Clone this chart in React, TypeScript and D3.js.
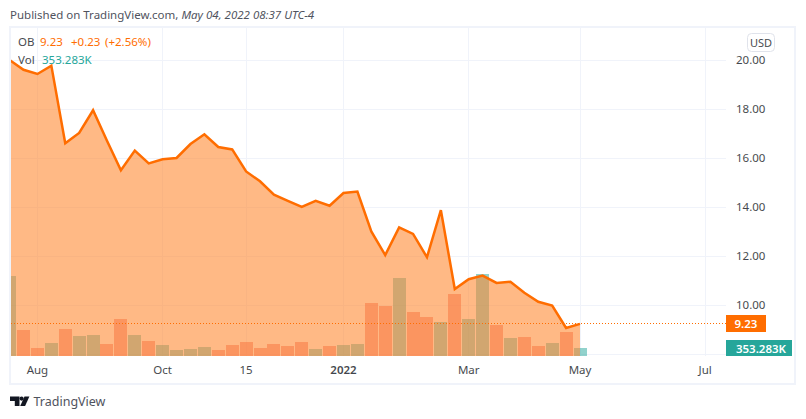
import * as React from "react";
import * as d3 from "d3";

const closes = [
  20.0, 19.6, 19.43, 19.77, 16.6, 17.02, 17.95, 16.7, 15.5, 16.3, 15.78, 15.95, 16.0, 16.57,
  16.97, 16.45, 16.35, 15.45, 15.05, 14.5, 14.25, 14.0, 14.25, 14.05, 14.57, 14.63, 13.0, 12.04,
  13.17, 12.9, 11.95, 13.87, 10.65, 11.05, 11.2, 10.9, 10.95, 10.5, 10.13, 9.98, 9.06, 9.23,
];
// thousands of shares
const volumes = [
  3530, 1150, 353, 575, 1190, 885, 930, 530, 1635, 930, 660, 485, 265, 310, 400, 265, 485, 620,
  353, 530, 440, 620, 310, 440, 485, 530, 2340, 2210, 3445, 1945, 1720, 1500, 2740, 1635, 3620,
  1370, 795, 840, 440, 575, 1060, 353.283,
];
// true where the volume bar is the "up" colour
const volUp = [
  1, 0, 0, 1, 0, 1, 1, 0, 0, 1, 0, 1, 1, 1, 1, 0, 0, 0, 0, 0, 0, 0, 1, 0, 1, 1, 0, 0, 1, 0, 0, 1,
  0, 1, 1, 0, 1, 0, 0, 1, 0, 1,
];
const priceTicks = [20, 18, 16, 14, 12, 10];
const gridPrices = [20, 18, 16, 14, 12, 10, 8];
const timeTickIndex = [2, 11, 17, 24, 33, 41, 50];
const timeTickLabels = ["Aug", "Oct", "15", "2022", "Mar", "May", "Jul"];

const font = "'Noto Sans', sans-serif";
const orange = "#ff6d00";
const teal = "#26a69a";
const gridColor = "#f0f3fa";

const x = d3.scaleLinear().domain([0, 41]).range([9.6, 580]);
const y = d3.scaleLinear().domain([8, 20]).range([354, 60]);
const volY = d3.scaleLinear().domain([0, 4416]).range([356, 256]);

const plotLeft = 11;
const plotRight = 726;
const plotBottom = 356;

export default function App() {
  const line = d3
    .line<number>()
    .x((_, i) => x(i))
    .y((d) => y(d));
  const area = d3
    .area<number>()
    .x((_, i) => x(i))
    .y0(plotBottom)
    .y1((d) => y(d));
  const last = closes[closes.length - 1];
  const lastY = Math.floor(y(last)) + 0.5;
  return (
    <svg
      width={806}
      height={419}
      style={{ position: "absolute", left: 0, top: 0, fontFamily: font }}
    >
      <defs>
        <clipPath id="plot">
          <rect x={plotLeft} y={27} width={plotRight - plotLeft} height={plotBottom - 27} />
        </clipPath>
      </defs>
      <text x={10} y={19} fontSize={11.5} fill="#50535e">
        Published on TradingView.com, <tspan fontStyle="italic">May 04, 2022 08:37 UTC-4</tspan>
      </text>
      <rect x={10} y={27} width={785} height={357} fill="#fff" stroke={gridColor} strokeWidth={2} />

      <g stroke={gridColor} strokeWidth={1}>
        {gridPrices.map((p) => (
          <line key={p} x1={plotLeft} x2={plotRight} y1={y(p) + 0.5} y2={y(p) + 0.5} />
        ))}
        {timeTickIndex.map((t) => (
          <line
            key={t}
            x1={Math.floor(x(t)) + 0.5}
            x2={Math.floor(x(t)) + 0.5}
            y1={28}
            y2={plotBottom}
          />
        ))}
      </g>

      <g clipPath="url(#plot)">
        {volumes.map((v, i) => (
          <rect
            key={i}
            x={x(i) - 6.5}
            y={volY(v)}
            width={13}
            height={plotBottom - volY(v)}
            fill={volUp[i] ? teal : "#ef5350"}
            fillOpacity={0.5}
            shapeRendering="crispEdges"
          />
        ))}
        {/* white wash under the area softens the bars but not the tips above it */}
        <path d={area(closes) ?? ""} fill="#fff" fillOpacity={0.2} />
        <path d={area(closes) ?? ""} fill={orange} fillOpacity={0.48} />
        <path d={line(closes) ?? ""} fill="none" stroke={orange} strokeWidth={2.5} />
        <line
          x1={plotLeft}
          x2={plotRight}
          y1={lastY}
          y2={lastY}
          stroke={orange}
          strokeWidth={1}
          strokeDasharray="1 2"
        />
      </g>

      <g fontSize={11.5} fill="#131722" opacity={0.8} textAnchor="start">
        {priceTicks.map((p) => (
          <text key={p} x={736} y={y(p) + 4}>
            {d3.format(".2f")(p)}
          </text>
        ))}
      </g>
      <rect x={747.5} y={33.5} width={27} height={18} rx={4} fill="#fff" stroke="#e0e3eb" />
      <text x={761} y={46.5} fontSize={11} fill="#131722" opacity={0.8} textAnchor="middle">
        USD
      </text>

      <rect x={726} y={315} width={40} height={17} fill={orange} />
      <text x={746} y={328} fontSize={11.5} fontWeight={600} fill="#fff" textAnchor="middle">
        {d3.format(".2f")(last)}
      </text>
      <rect x={726} y={340} width={66} height={16} fill={teal} />
      <text x={761} y={352.5} fontSize={11.5} fontWeight={600} fill="#fff" textAnchor="middle">
        353.283K
      </text>

      <g fontSize={11.5} fill="#131722" opacity={0.8} textAnchor="middle">
        {timeTickLabels.map((label, i) => (
          <text
            key={label}
            x={x(timeTickIndex[i])}
            y={374}
            fontWeight={label === "2022" ? 600 : 400}
          >
            {label}
          </text>
        ))}
      </g>

      <g fontSize={11.5}>
        <text x={18} y={46} fill="#131722" opacity={0.8}>
          OB
        </text>
        <text x={40} y={46} fill={orange}>
          9.23
        </text>
        <text x={71} y={46} fill={orange}>
          +0.23
        </text>
        <text x={105} y={46} fill={orange}>
          (+2.56%)
        </text>
        <text x={18} y={64} fill="#131722" opacity={0.8}>
          Vol
        </text>
        <text x={42} y={64} fill={teal}>
          353.283K
        </text>
      </g>

      <g fill="#131722">
        <path d="M10 396.5h9.5v9.5h-4.7v-5h-4.8z" />
        <circle cx={21.6} cy={398.6} r={2.1} />
        <path d="M24.5 396.5h4.9l-4.3 9.5h-4.9z" />
      </g>
      <text x={33.5} y={406} fontSize={12.5} fill="#50535e">
        TradingView
      </text>
    </svg>
  );
}
